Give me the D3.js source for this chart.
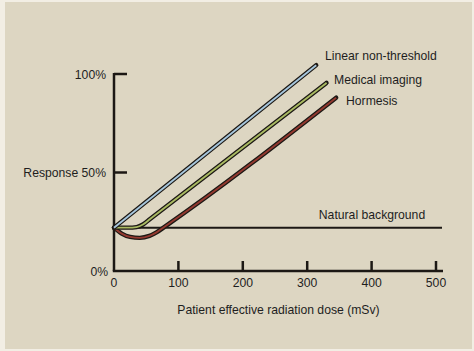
<!DOCTYPE html>
<html><head><meta charset="utf-8">
<script src="https://cdn.jsdelivr.net/npm/d3@7"></script>
<style>html,body{margin:0;padding:0;background:#f2eee4;}svg{display:block;}</style>
</head><body>
<script>
// ---- data ----
const xTicks = [100, 200, 300, 400, 500];
const xTickLabels = ["0", "100", "200", "300", "400", "500"];
const xLabelValues = [0, 100, 200, 300, 400, 500];
const yTicks = [50, 100];
const yTickLabels = ["0%", "Response 50%", "100%"];
const yLabelValues = [0, 50, 100];
const backgroundLevel = 22;
const backgroundDose = [0, 500];

const lntDose = [0, 314];
const lntResp = [22, 104.5];
const medDose = [0, 22, 35, 45, 56, 330];
const medResp = [22, 22, 22.3, 23.6, 26.4, 95.5];
const horDose = [0, 12, 25, 40, 55, 66, 78, 345];
const horResp = [22, 19, 17.3, 16.8, 17.8, 19.6, 22.3, 88];
const seriesNames = ["Linear non-threshold", "Medical imaging", "Hormesis"];
const seriesColors = ["#a6c6dc", "#a9ba62", "#93392f"];

const W = 474, H = 351;
const svg = d3.select("body").append("svg").attr("width", W).attr("height", H);
svg.append("rect").attr("x", 5).attr("y", 2).attr("width", 467).attr("height", 347).attr("fill", "#ddd6c2");

const x = d3.scaleLinear().domain([0, 500]).range([114, 436]);
const y = d3.scaleLinear().domain([0, 100]).range([271, 74]);
const ink = "#1c1814";
const font = "Liberation Sans, Arial, Helvetica, sans-serif";

// axes
svg.append("line").attr("x1", x(0)).attr("x2", x(0)).attr("y1", y(100) - 1).attr("y2", y(0))
  .attr("stroke", ink).attr("stroke-width", 2.5);
svg.append("line").attr("x1", x(0) - 1.2).attr("x2", 443).attr("y1", y(0)).attr("y2", y(0))
  .attr("stroke", ink).attr("stroke-width", 2.5);
svg.selectAll(".xt").data(xTicks).join("line")
  .attr("x1", d => x(d)).attr("x2", d => x(d)).attr("y1", y(0)).attr("y2", y(0) - 10)
  .attr("stroke", ink).attr("stroke-width", 2.5);
svg.selectAll(".yt").data(yTicks).join("line")
  .attr("x1", x(0)).attr("x2", x(0) + 13).attr("y1", d => y(d)).attr("y2", d => y(d))
  .attr("stroke", ink).attr("stroke-width", 2.5);

svg.selectAll(".xl").data(xLabelValues).join("text")
  .attr("x", d => x(d)).attr("y", 287).attr("text-anchor", "middle")
  .attr("font-family", font).attr("font-size", 12.2).attr("fill", "#1e1e1e")
  .text((d, i) => xTickLabels[i]);
svg.selectAll(".yl").data(yLabelValues).join("text")
  .attr("x", (d, i) => i === 0 ? 108 : 106).attr("y", d => y(d) + 4.5).attr("text-anchor", "end")
  .attr("font-family", font).attr("font-size", 12.2).attr("fill", "#1e1e1e")
  .text((d, i) => yTickLabels[i]);
svg.append("text").attr("x", 278.5).attr("y", 314).attr("text-anchor", "middle")
  .attr("font-family", font).attr("font-size", 12.2).attr("fill", "#1e1e1e")
  .text("Patient effective radiation dose (mSv)");

// natural background
svg.append("line").attr("x1", x(backgroundDose[0])).attr("x2", x(backgroundDose[1]) + 6)
  .attr("y1", y(backgroundLevel)).attr("y2", y(backgroundLevel))
  .attr("stroke", ink).attr("stroke-width", 2);
svg.append("text").attr("x", 372).attr("y", 219).attr("text-anchor", "middle")
  .attr("font-family", font).attr("font-size", 12.2).attr("fill", "#1e1e1e").text("Natural background");

const line = d3.line().x(d => x(d[0])).y(d => y(d[1])).curve(d3.curveMonotoneX);
const series = [
  horDose.map((d, i) => [d, horResp[i]]),
  medDose.map((d, i) => [d, medResp[i]]),
  lntDose.map((d, i) => [d, lntResp[i]])
];
const colorIdx = [2, 1, 0];
series.forEach((s, k) => {
  svg.append("path").attr("d", line(s)).attr("fill", "none").attr("stroke", ink)
    .attr("stroke-width", 4.4).attr("stroke-linecap", "round");
  svg.append("path").attr("d", line(s)).attr("fill", "none").attr("stroke", seriesColors[colorIdx[k]])
    .attr("stroke-width", 1.9).attr("stroke-linecap", "butt");
});

const labelPos = [[325, 60], [334, 84], [346, 105]];
seriesNames.forEach((n, i) => {
  svg.append("text").attr("x", labelPos[i][0]).attr("y", labelPos[i][1])
    .attr("font-family", font).attr("font-size", 12.2).attr("fill", "#1e1e1e").text(n);
});
</script>
</body></html>
